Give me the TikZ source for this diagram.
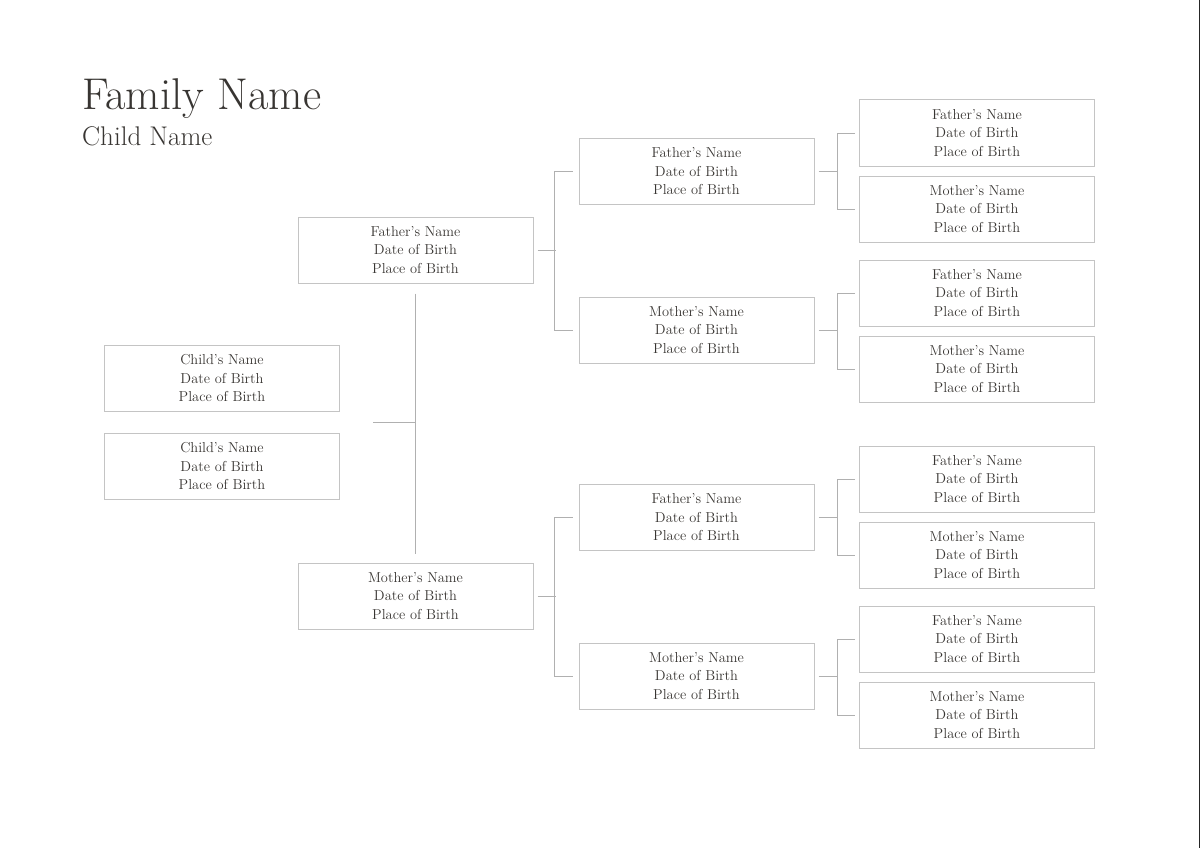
\documentclass[tikz,border=0pt]{standalone}
\usepackage{tikz}

\definecolor{inkgray}{HTML}{383532}
\definecolor{framegray}{HTML}{C4C4C4}
\definecolor{linegray}{HTML}{B0B0B0}

\begin{document}
\begin{tikzpicture}[x=1pt,y=-1pt,
  person/.style={draw=framegray, line width=1pt, minimum width=235pt,
    minimum height=66pt, inner sep=0pt, align=center, text=inkgray,
    font=\fontsize{14.4}{18.5}\selectfont,
    execute at begin node={\rule{0pt}{15pt}}},
  link/.style={draw=linegray, line width=1pt},
  title/.style={anchor=base west, inner sep=0pt, text=inkgray}]
  \useasboundingbox (0,0) rectangle (1201,848);

  % 1. Heading
  \node[title, font=\fontsize{44.5}{47}\selectfont] (family) at (82,110) {Family Name};
  \node[title, font=\fontsize{27}{30}\selectfont] (child) at (82,145) {Child Name};

  % 2. Children
  \node[person] (childA) at (222,378) {Child's Name\\Date of Birth\\Place of Birth};
  \node[person] (childB) at (222,466) {Child's Name\\Date of Birth\\Place of Birth};

  % 3. Parents
  \node[person] (father) at (415.5,250) {Father's Name\\Date of Birth\\Place of Birth};
  \node[person] (mother) at (415.5,596) {Mother's Name\\Date of Birth\\Place of Birth};

  % 4. Grandparents
  \node[person] (pf) at (696.5,171.5) {Father's Name\\Date of Birth\\Place of Birth};
  \node[person] (pm) at (696.5,330) {Mother's Name\\Date of Birth\\Place of Birth};
  \node[person] (mf) at (696.5,517.5) {Father's Name\\Date of Birth\\Place of Birth};
  \node[person] (mm) at (696.5,676) {Mother's Name\\Date of Birth\\Place of Birth};

  % 5. Great-grandparents
  \node[person] (pff) at (977,133) {Father's Name\\Date of Birth\\Place of Birth};
  \node[person] (pfm) at (977,209) {Mother's Name\\Date of Birth\\Place of Birth};
  \node[person] (pmf) at (977,293) {Father's Name\\Date of Birth\\Place of Birth};
  \node[person] (pmm) at (977,369) {Mother's Name\\Date of Birth\\Place of Birth};
  \node[person] (mff) at (977,479) {Father's Name\\Date of Birth\\Place of Birth};
  \node[person] (mfm) at (977,555) {Mother's Name\\Date of Birth\\Place of Birth};
  \node[person] (mmf) at (977,639) {Father's Name\\Date of Birth\\Place of Birth};
  \node[person] (mmm) at (977,715) {Mother's Name\\Date of Birth\\Place of Birth};

  % 6. Children to parents
  \coordinate (kids) at (373,422);
  \draw[link] ([yshift=-10pt]father.south) -- ([yshift=9pt]mother.north);
  \draw[link] (kids) -- (kids -| father.south);

  % 7. Parents to grandparents
  \draw[link] ([xshift=4pt]father.east) -- ++(18,0);
  \draw[link] ([xshift=-6pt]pf.west) -- ++(-18,0) |- ([xshift=-6pt]pm.west);
  \draw[link] ([xshift=4pt]mother.east) -- ++(18,0);
  \draw[link] ([xshift=-6pt]mf.west) -- ++(-18,0) |- ([xshift=-6pt]mm.west);

  % 8. Grandparents to great-grandparents
  \draw[link] ([xshift=4pt]pf.east) -- ++(18,0);
  \draw[link] ([xshift=-4pt]pff.west) -- ++(-18,0) |- ([xshift=-4pt]pfm.west);
  \draw[link] ([xshift=4pt]pm.east) -- ++(18,0);
  \draw[link] ([xshift=-4pt]pmf.west) -- ++(-18,0) |- ([xshift=-4pt]pmm.west);
  \draw[link] ([xshift=4pt]mf.east) -- ++(18,0);
  \draw[link] ([xshift=-4pt]mff.west) -- ++(-18,0) |- ([xshift=-4pt]mfm.west);
  \draw[link] ([xshift=4pt]mm.east) -- ++(18,0);
  \draw[link] ([xshift=-4pt]mmf.west) -- ++(-18,0) |- ([xshift=-4pt]mmm.west);

  % 9. Page edge
  \draw[line width=1.5pt, black!85] (1199.5,0) -- (1199.5,848);
\end{tikzpicture}
\end{document}
